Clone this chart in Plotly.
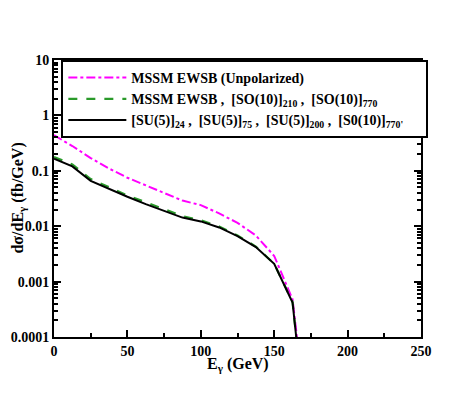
import plotly.graph_objects as go

E = [0, 12.5, 25, 37.5, 50, 62.5, 75, 87.5, 100, 112.5, 125, 137.5, 150, 162.5, 165]
black = [0.165, 0.12, 0.066, 0.047, 0.034, 0.025, 0.019, 0.0143, 0.0122, 0.0095, 0.0066, 0.0042, 0.0021, 0.00042, 0.0001]
green = [0.178, 0.13, 0.071, 0.051, 0.036, 0.027, 0.020, 0.0152, 0.0128, 0.0099, 0.0068, 0.0043, 0.0021, 0.00043, 0.0001]
E_mag = [0, 12.5, 25, 37.5, 50, 62.5, 75, 87.5, 100, 112.5, 125, 137.5, 150, 162.5, 165.5]
magenta = [0.44, 0.28, 0.17, 0.11, 0.075, 0.055, 0.040, 0.029, 0.024, 0.017, 0.0115, 0.0068, 0.0029, 0.00048, 0.0001]

names = [
    "MSSM EWSB (Unpolarized)",
    "MSSM EWSB ,  [SO(10)]<sub>210</sub> ,  [SO(10)]<sub>770</sub>",
    "[SU(5)]<sub>24</sub> ,  [SU(5)]<sub>75</sub> ,  [SU(5)]<sub>200</sub> ,  [S0(10)]<sub>770'</sub>\u00a0\u00a0\u00a0\u00a0\u00a0",
]

xticks = [0, 50, 100, 150, 200, 250]
xminor = [25, 75, 125, 175, 225]
yticks = [10, 1, 0.1, 0.01, 0.001, 0.0001]
yticktext = ["10", "1", "0.1", "0.01", "0.001", "0.0001"]
yminor = [m * 10 ** k for k in range(-4, 1) for m in range(2, 10)]

FONT = "Liberation Serif"

fig = go.Figure()
fig.add_trace(go.Scatter(x=E_mag, y=magenta, mode="lines", name=names[0],
                         line=dict(color="#ff00ff", width=2, dash="dashdot")))
fig.add_trace(go.Scatter(x=E, y=green, mode="lines", name=names[1],
                         line=dict(color="#2a9a2a", width=2.2, dash="dash")))
fig.add_trace(go.Scatter(x=E, y=black, mode="lines", name=names[2],
                         line=dict(color="black", width=2)))

# page body has an 8px default margin, so the figure is sized to fit inside the window
fig.update_layout(
    width=458, height=381,
    margin=dict(l=46, r=45, t=52, b=52, autoexpand=False),
    paper_bgcolor="white", plot_bgcolor="white",
    font=dict(family=FONT, size=14, color="black", weight="bold"),
    legend=dict(x=0.02, y=1, xanchor="left", yanchor="top",
                bgcolor="white", bordercolor="black", borderwidth=2,
                font=dict(family=FONT, size=14, color="black", weight="bold"),
                tracegroupgap=0, itemwidth=58),
    showlegend=True,
    annotations=[
        dict(text="E<sub>γ</sub> (GeV)", xref="paper", yref="paper", x=0.5, y=-0.1,
             xanchor="center", yanchor="middle", showarrow=False,
             font=dict(family=FONT, size=16, weight="bold", color="black")),
        dict(text="dσ/dE<sub>γ</sub> (fb/GeV)", xref="paper", yref="paper", x=-0.098, y=0.5,
             xanchor="center", yanchor="middle", showarrow=False, textangle=-90,
             font=dict(family=FONT, size=16, weight="bold", color="black")),
    ],
)
fig.update_xaxes(range=[0, 250], tickmode="array", tickvals=xticks, automargin=False,
                 ticks="inside", ticklen=7, tickwidth=1.5, tickcolor="black",
                 minor=dict(tickmode="array", tickvals=xminor, ticks="inside", ticklen=4, tickcolor="black"),
                 showline=True, linecolor="black", linewidth=2, mirror="ticks",
                 showgrid=False, zeroline=False,
                 tickfont=dict(family=FONT, size=14, weight="bold"))
fig.update_yaxes(type="log", range=[-4, 1], tickmode="array", tickvals=yticks, ticktext=yticktext,
                 automargin=False,
                 ticks="inside", ticklen=7, tickwidth=1.5, tickcolor="black",
                 minor=dict(tickmode="array", tickvals=yminor, ticks="inside", ticklen=4, tickcolor="black"),
                 showline=True, linecolor="black", linewidth=2, mirror="ticks",
                 showgrid=False, zeroline=False,
                 tickfont=dict(family=FONT, size=14, weight="bold"))

fig.write_html("out.html")
